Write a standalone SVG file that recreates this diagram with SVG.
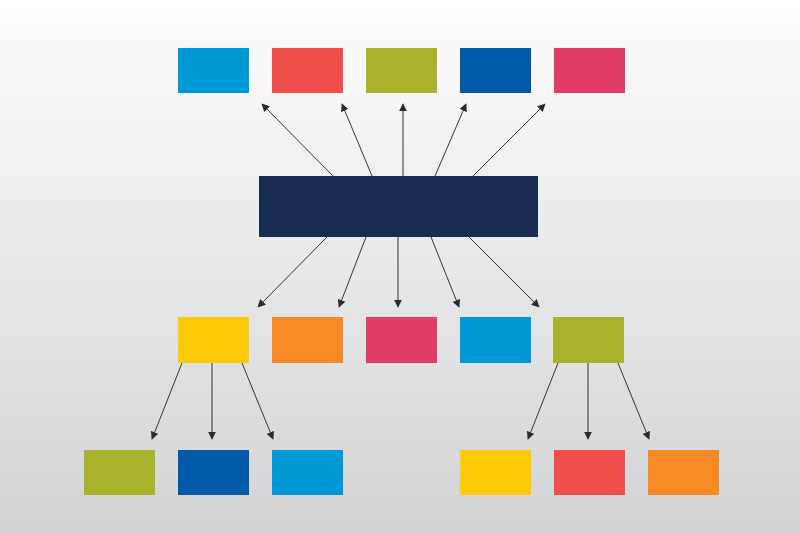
<svg xmlns="http://www.w3.org/2000/svg" width="800" height="533" viewBox="0 0 800 533">
<defs>
<linearGradient id="bg" x1="0" y1="0" x2="0" y2="1">
<stop offset="0" stop-color="#ffffff"/>
<stop offset="0.06" stop-color="#fbfbfb"/>
<stop offset="1" stop-color="#d2d3d5"/>
</linearGradient>
<marker id="ah" viewBox="0 0 10 10" refX="9" refY="5" markerWidth="8" markerHeight="8" markerUnits="userSpaceOnUse" orient="auto">
<path d="M0,0 L10,5 L0,10 z" fill="#2b2b2b"/>
</marker>
<style>
.c line{stroke:#333;stroke-width:1;marker-end:url(#ah)}
</style>
</defs>
<rect width="800" height="533" fill="url(#bg)"/>
<g id="connectors" class="c">
<line x1="333" y1="176" x2="262" y2="104"/>
<line x1="372" y1="176" x2="342" y2="104"/>
<line x1="403" y1="176" x2="403" y2="104"/>
<line x1="435" y1="176" x2="466" y2="104"/>
<line x1="473" y1="176" x2="545" y2="104"/>
<line x1="327" y1="237" x2="258" y2="307"/>
<line x1="366" y1="237" x2="339" y2="307"/>
<line x1="398" y1="237" x2="398" y2="307"/>
<line x1="431" y1="237" x2="459" y2="307"/>
<line x1="469" y1="237" x2="539" y2="307"/>
<line x1="182" y1="363" x2="152" y2="439"/>
<line x1="212" y1="363" x2="212" y2="439"/>
<line x1="242" y1="363" x2="273" y2="439"/>
<line x1="558" y1="363" x2="528" y2="439"/>
<line x1="588" y1="363" x2="588" y2="439"/>
<line x1="618" y1="363" x2="649" y2="439"/>
</g>
<g id="top1"><rect x="178" y="48" width="71" height="45" fill="#0099d8"/></g>
<g id="top2"><rect x="272" y="48" width="71" height="45" fill="#f04e4a"/></g>
<g id="top3"><rect x="366" y="48" width="71" height="45" fill="#a8b22a"/></g>
<g id="top4"><rect x="460" y="48" width="71" height="45" fill="#005aa8"/></g>
<g id="top5"><rect x="554" y="48" width="71" height="45" fill="#e03c67"/></g>
<g id="center"><rect x="259" y="176" width="279" height="61" fill="#182c52"/></g>
<g id="mid1"><rect x="178" y="317" width="71" height="46" fill="#fec907"/></g>
<g id="mid2"><rect x="272" y="317" width="71" height="46" fill="#f68b25"/></g>
<g id="mid3"><rect x="366" y="317" width="71" height="46" fill="#e03c67"/></g>
<g id="mid4"><rect x="460" y="317" width="71" height="46" fill="#0099d8"/></g>
<g id="mid5"><rect x="553" y="317" width="71" height="46" fill="#a8b22a"/></g>
<g id="bot1"><rect x="84" y="450" width="71" height="45" fill="#a8b22a"/></g>
<g id="bot2"><rect x="178" y="450" width="71" height="45" fill="#005aa8"/></g>
<g id="bot3"><rect x="272" y="450" width="71" height="45" fill="#0099d8"/></g>
<g id="bot4"><rect x="460" y="450" width="71" height="45" fill="#fec907"/></g>
<g id="bot5"><rect x="554" y="450" width="71" height="45" fill="#f04e4a"/></g>
<g id="bot6"><rect x="648" y="450" width="71" height="45" fill="#f68b25"/></g>
</svg>
